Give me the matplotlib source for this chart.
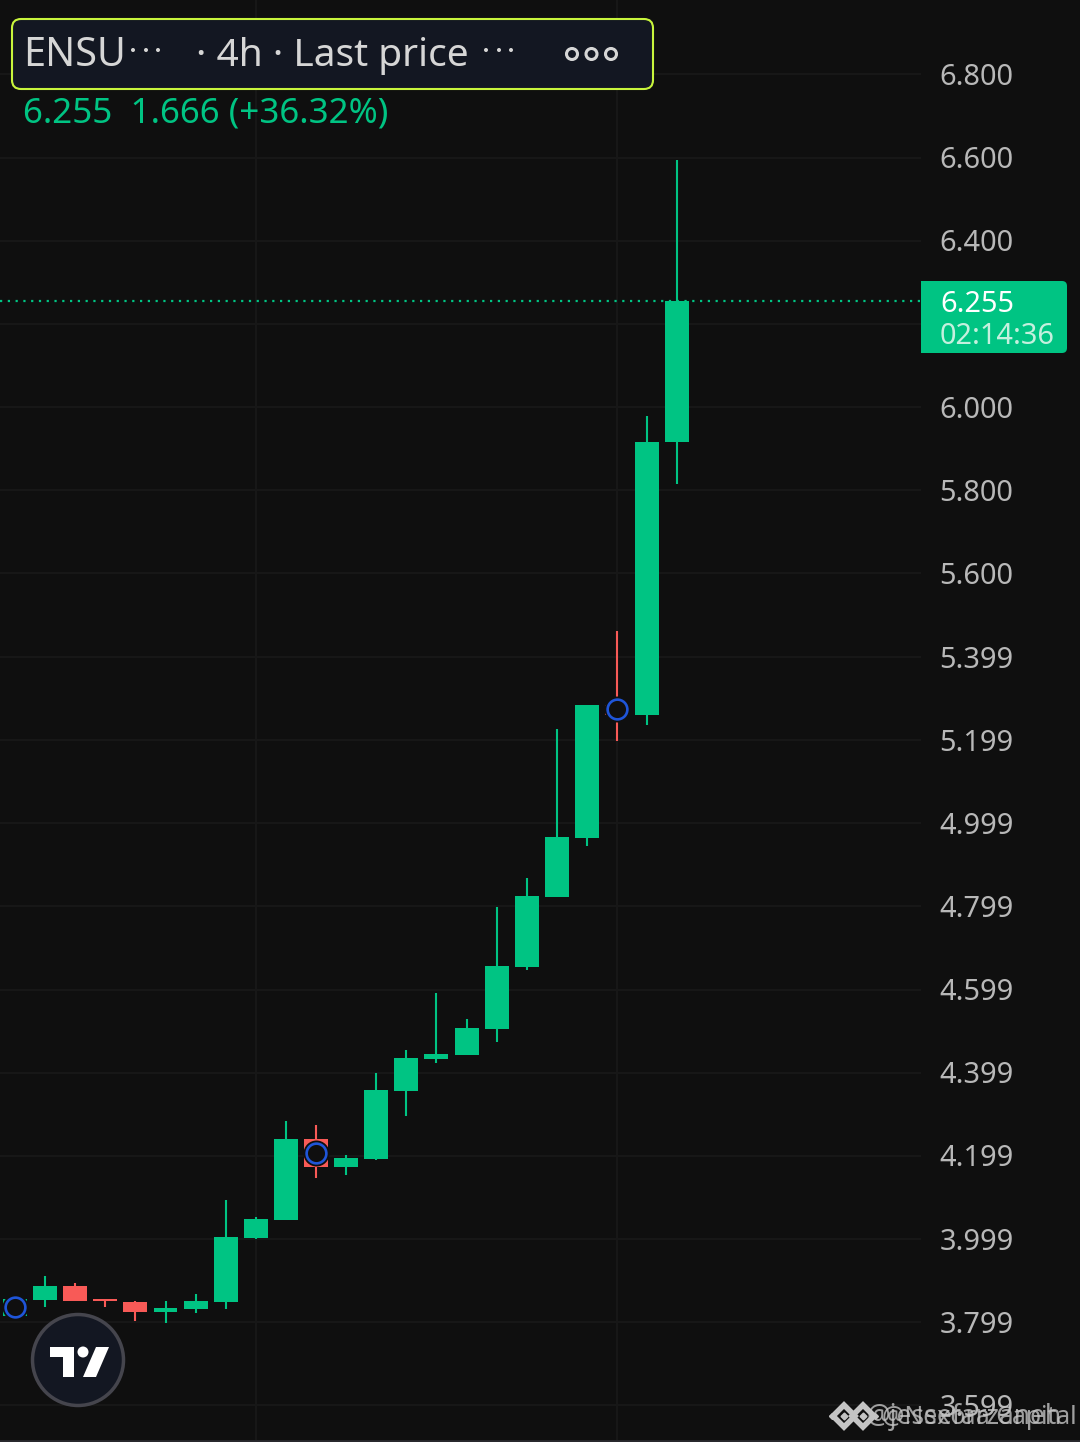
import matplotlib
matplotlib.use("Agg")
import matplotlib.pyplot as plt
from matplotlib.patches import Circle, FancyBboxPatch, Polygon, Rectangle
from matplotlib.transforms import offset_copy

opens = [3.814, 3.853, 3.886, 3.855, 3.848, 3.824, 3.831, 3.848, 4.002, 4.045, 4.240, 4.173,
         4.192, 4.355, 4.432, 4.442, 4.504, 4.654, 4.822, 4.964, 5.284, 5.260, 5.916]
closes = [3.855, 3.886, 3.850, 3.850, 3.824, 3.833, 3.850, 4.004, 4.047, 4.240, 4.173, 4.194,
          4.358, 4.435, 4.444, 4.507, 4.656, 4.824, 4.966, 5.284, 5.260, 5.916, 6.255]
highs = [3.865, 3.910, 3.894, 3.855, 3.850, 3.850, 3.867, 4.093, 4.052, 4.283, 4.274, 4.201,
         4.399, 4.454, 4.591, 4.529, 4.798, 4.868, 5.226, 5.284, 5.462, 5.979, 6.594]
lows = [3.805, 3.836, 3.850, 3.836, 3.802, 3.797, 3.821, 3.831, 3.999, 4.045, 4.146, 4.153,
        4.189, 4.295, 4.423, 4.442, 4.473, 4.646, 4.822, 4.945, 5.197, 5.236, 5.815]

price_ticks = [6.800, 6.600, 6.400, 6.200, 6.000, 5.800, 5.600, 5.399, 5.199, 4.999,
               4.799, 4.599, 4.399, 4.199, 3.999, 3.799, 3.599]
hidden_ticks = [6.200]  # covered by the last price tag
time_grid = [8, 20]
marked_bars = [0, 10, 20]
marked_prices = [3.836, 4.206, 5.274]
last_price = 6.255

BG = "#0f0f0f"
GRID = "#171717"
UP = "#00c483"
DOWN = "#f85a57"
LABEL = "#b8b8b8"
FONT = "Noto Sans"

fig = plt.figure(figsize=(10.8, 14.42), dpi=100, facecolor=BG)
ax = fig.add_axes([0, 0, 1, 1], facecolor=BG)
ax.set_xlim(-0.498, 35.38)
ax.set_ylim(3.511, 6.979)
ax.axis("off")

# grid stops where the price scale begins
grid_end = 0.852
for p in price_ticks:
    ax.axhline(p, xmin=0, xmax=grid_end, color=GRID, lw=1.5, zorder=1)
for t in time_grid:
    ax.axvline(t, color=GRID, lw=1.5, zorder=1)

for i in range(len(opens)):
    col = UP if closes[i] >= opens[i] else DOWN
    ax.vlines(i, lows[i], highs[i], color=col, lw=1.5, zorder=2)
    ax.bar(i, max(abs(closes[i] - opens[i]), 0.004), bottom=min(opens[i], closes[i]),
           width=0.797, color=col, lw=0, zorder=3)

ax.axhline(last_price, xmin=0, xmax=grid_end, color=UP, lw=1.6, ls=(0, (1, 2.5)), zorder=2)

# events on the candles: dark halo, then the ring
ax.plot(marked_bars, marked_prices, ls="none", marker="o", ms=18.7, mfc=BG, mec="none", zorder=4)
ax.plot(marked_bars, marked_prices, ls="none", marker="o", ms=14.2, mfc="none", mec="#1f55d8",
        mew=1.9, zorder=5)

label_tf = offset_copy(ax.get_yaxis_transform(), fig=fig, x=0, y=-2.2, units="points")
for p in price_ticks:
    if p in hidden_ticks:
        continue
    ax.text(0.87, p, f"{p:.3f}", transform=label_tf, color=LABEL, fontsize=20.8,
            family=FONT, va="center", ha="left", zorder=6)

# overlay in pixel units for the app's own furniture
ov = fig.add_axes([0, 0, 1, 1], facecolor="none")
ov.set_xlim(0, 1080)
ov.set_ylim(1442, 0)
ov.axis("off")

ov.add_patch(FancyBboxPatch((12, 19), 641, 70, boxstyle="round,pad=0,rounding_size=9",
                            fc="#131722", ec="#c8f53c", lw=1.5, zorder=7))
ov.text(23, 56, "ENSU", color="#d6d6d6", fontsize=28.5, family=FONT, va="center", zorder=8)
ov.text(196, 56, "\u00b7 4h \u00b7 Last price", color="#d6d6d6", fontsize=28, family=FONT,
        va="center", zorder=8)
for cx in (133, 146, 158, 486, 499, 511):
    ov.add_patch(Circle((cx, 50), 2, fc="#d6d6d6", ec="none", zorder=8))
for cx in (572, 591.5, 611):
    ov.add_patch(Circle((cx, 54), 5.5, fc="none", ec="#d6d6d6", lw=2.2, zorder=8))
ov.text(23, 113, "6.255  1.666 (+36.32%)", color=UP, fontsize=25.2, family=FONT, va="center", zorder=8)

# last price tag, square on the left and rounded on the right
ov.add_patch(FancyBboxPatch((921, 281), 146, 72, boxstyle="round,pad=0,rounding_size=5",
                            fc=UP, ec="none", zorder=7))
ov.add_patch(Rectangle((921, 281), 20, 72, fc=UP, ec="none", zorder=7))
ov.text(940, 304, "6.255", color="white", fontsize=20.8, family=FONT, va="center", zorder=8)
ov.text(940, 336, "02:14:36", color="#c4f0de", fontsize=20.8, family=FONT, va="center", zorder=8)

# TradingView badge
ov.add_patch(Circle((78, 1360), 45.5, fc="#131722", ec="#45454d", lw=2.5, zorder=7))
ov.add_patch(Polygon([(50, 1347), (74, 1347), (74, 1377), (63, 1377), (63, 1357), (50, 1357)],
                     closed=True, fc="white", ec="none", zorder=8))
ov.add_patch(Polygon([(96, 1347), (109, 1347), (96, 1377), (83, 1377)],
                     closed=True, fc="white", ec="none", zorder=8))
ov.add_patch(Circle((83, 1352), 5.5, fc="white", ec="none", zorder=8))

# two watermarks printed over each other
ov.text(867, 1417, "@jessefarzaneh", color="#c4c4c4", fontsize=19, family=FONT, va="center", alpha=0.8, zorder=9)
ov.text(882, 1417, "@Nexora Capital", color="#c4c4c4", fontsize=17.9, family=FONT, va="center", alpha=0.8, zorder=9)
for lx in (844, 863):
    ov.plot([lx], [1416], marker="D", ms=11.5, mfc="none", mec="#c4c4c4", mew=4, zorder=9)
    ov.plot([lx], [1416], marker="D", ms=3.5, color="#c4c4c4", zorder=9)
for lx in (832, 875):
    ov.plot([lx], [1416], marker="D", ms=3, color="#c4c4c4", zorder=9)

# thin strip along the bottom edge
ov.axhline(1441, color="#2a2a2e", lw=2, zorder=9)

fig.savefig("out.png", dpi=100, facecolor=BG)
